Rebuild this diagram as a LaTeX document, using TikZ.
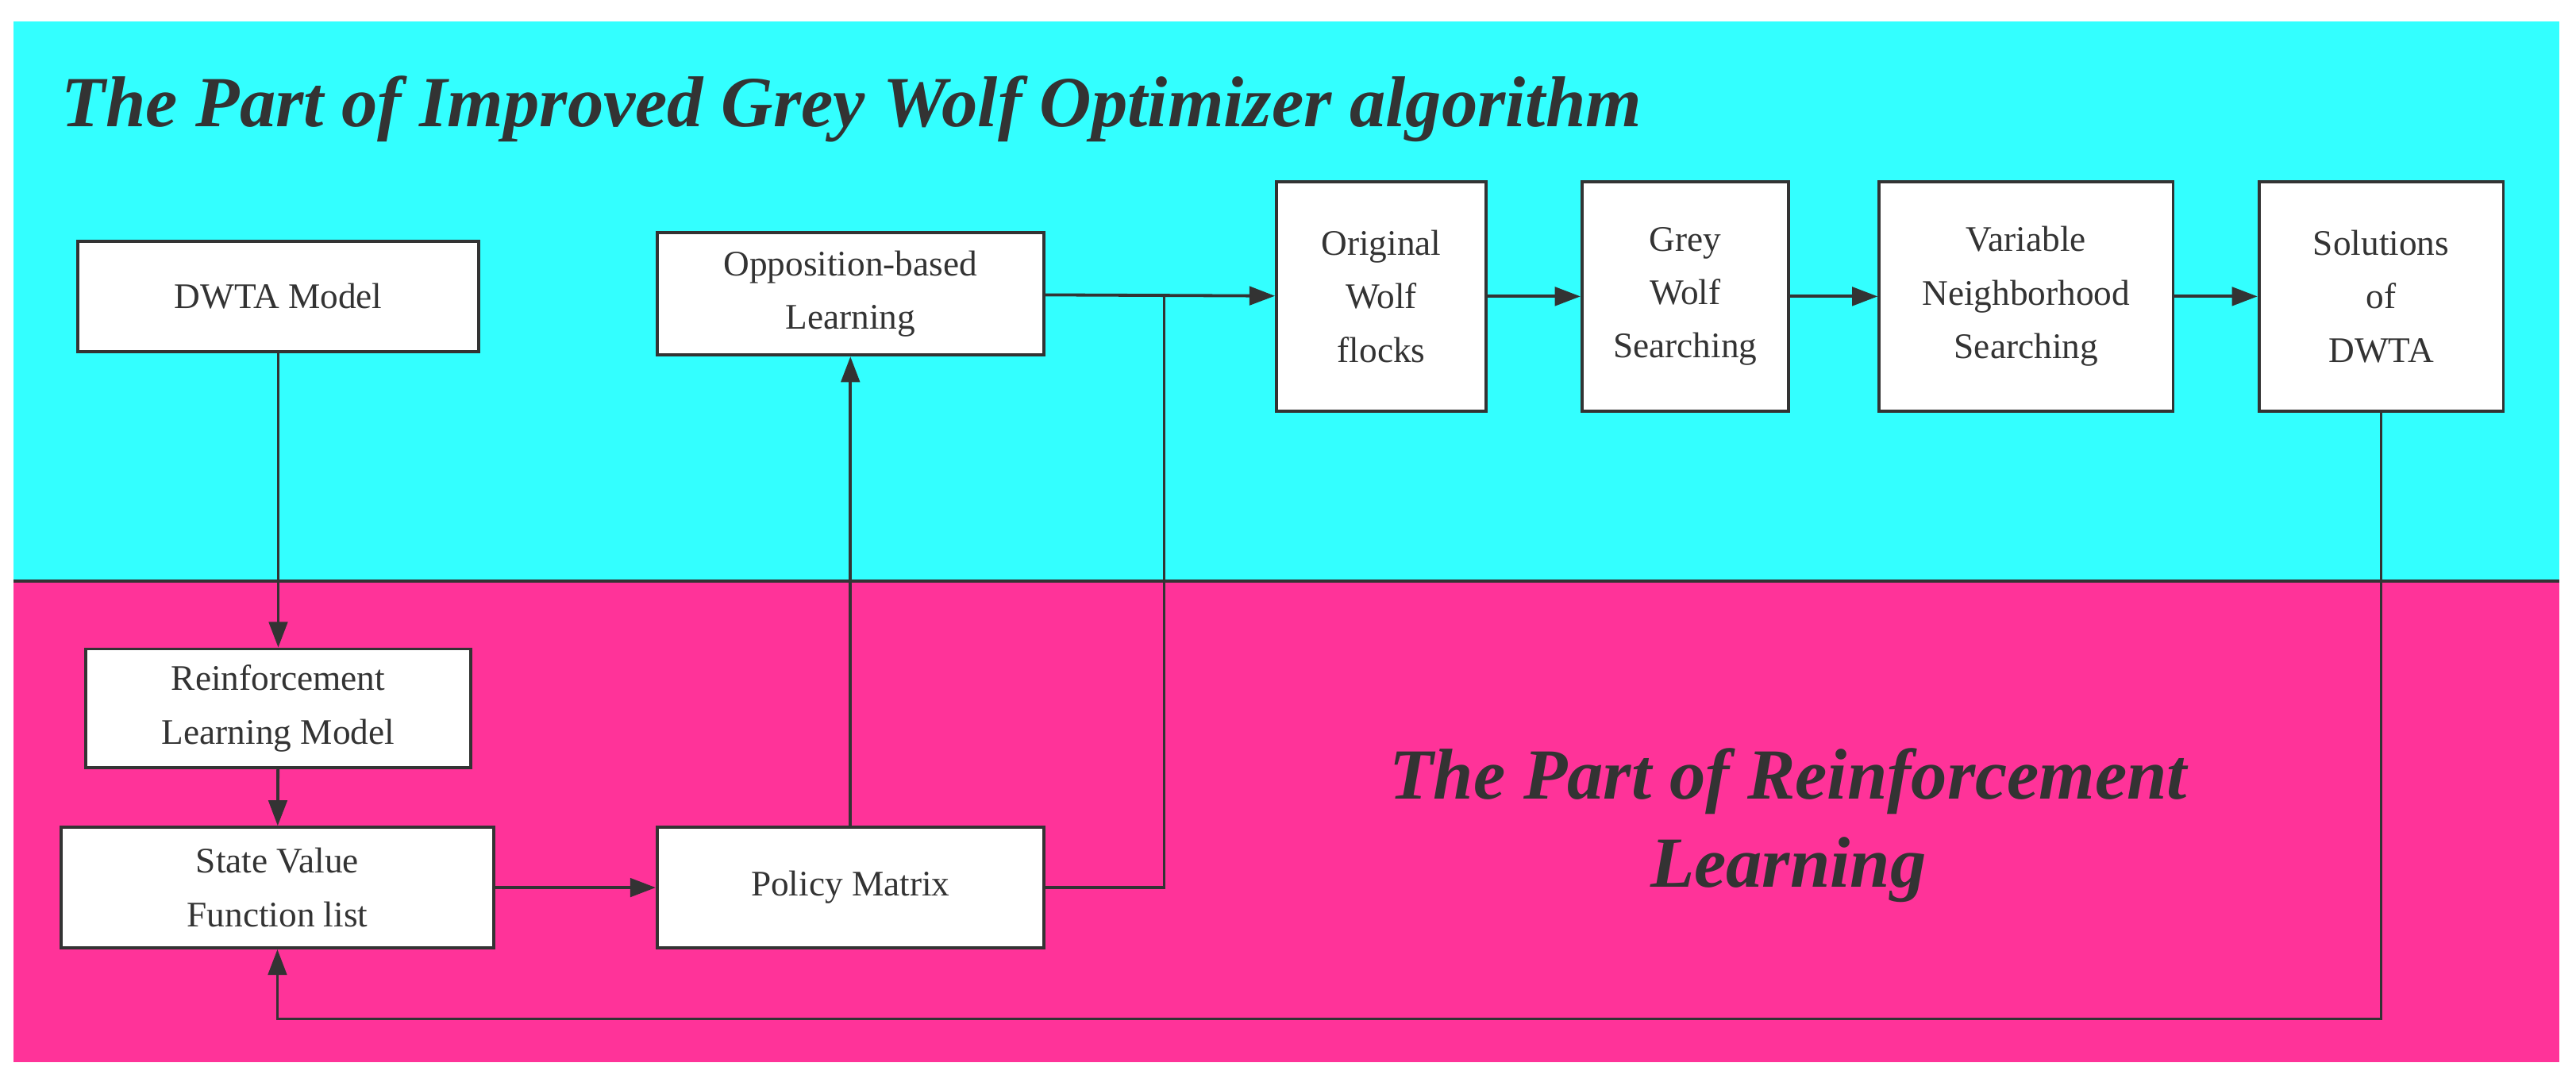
\documentclass[tikz,border=0pt]{standalone}
\usepackage{fontspec}
\setmainfont{Liberation Serif}
\usetikzlibrary{arrows.meta}
\definecolor{topc}{HTML}{33FFFF}
\definecolor{botc}{HTML}{FF3399}
\definecolor{ink}{HTML}{333333}
\tikzset{
  box/.style={draw=ink, fill=white, line width=2.6pt, text=ink, align=center,
    font=\fontsize{31}{46}\selectfont, inner sep=0pt},
  arr/.style={draw=ink, line width=2.6pt, -{Triangle[length=22pt,width=16pt]}},
  ttl/.style={text=ink, font=\fontsize{62}{76}\selectfont\bfseries\itshape}
}
\begin{document}
\begin{tikzpicture}[x=0.05cm, y=-0.05cm]
\useasboundingbox (0,0) rectangle (1560,655);
% Background parts
\fill[topc] (8,13) rectangle (1550,352);
\fill[botc] (8,352) rectangle (1550,643);
\draw[ink, line width=2.6pt] (8,352) -- (1550,352);
\node[ttl, anchor=west] (t1) at (35,66) {The Part of Improved Grey Wolf Optimizer algorithm};
\node[ttl, align=center] (t2) at (1083,500) {The Part of Reinforcement\\Learning};
% Boxes
\node[box, minimum width=243*0.05cm, minimum height=67*0.05cm] (dwta) at (168.5,179.5) {DWTA Model};
\node[box, minimum width=234*0.05cm, minimum height=74*0.05cm] (obl) at (515,178) {Opposition-based\\Learning};
\node[box, minimum width=127*0.05cm, minimum height=139*0.05cm] (owf) at (836.5,179.5) {Original\\Wolf\\flocks};
\node[box, minimum width=125*0.05cm, minimum height=139*0.05cm] (gws) at (1020.5,179.5) {Grey\\Wolf\\Searching};
\node[box, minimum width=178*0.05cm, minimum height=139*0.05cm] (vns) at (1227,179.5) {Variable\\Neighborhood\\Searching};
\node[box, minimum width=148*0.05cm, minimum height=139*0.05cm] (sol) at (1442,179.5) {Solutions\\of\\DWTA};
\node[box, minimum width=233*0.05cm, minimum height=72*0.05cm] (rlm) at (168.5,429) {Reinforcement\\Learning Model};
\node[box, minimum width=262*0.05cm, minimum height=73*0.05cm] (svf) at (168,537.5) {State Value\\Function list};
\node[box, minimum width=234*0.05cm, minimum height=73*0.05cm] (pm) at (515,537.5) {Policy Matrix};
\coordinate (j) at (705,180);
\coordinate (c1) at (1442,617);
\coordinate (c2) at (168,617);
% Connectors
\draw[arr] (dwta) -- (rlm);
\draw[arr] (rlm) -- (svf);
\draw[arr] (svf) -- (pm);
\draw[arr] (pm) -- (obl);
\draw[arr] (obl) -- (owf);
\draw[draw=ink, line width=2.6pt] (pm.east) -| (j);
\draw[arr] (owf) -- (gws);
\draw[arr] (gws) -- (vns);
\draw[arr] (vns) -- (sol);
\draw[arr] (sol.south) -- (c1) -- (c2) -- (svf.south);
\end{tikzpicture}
\end{document}
